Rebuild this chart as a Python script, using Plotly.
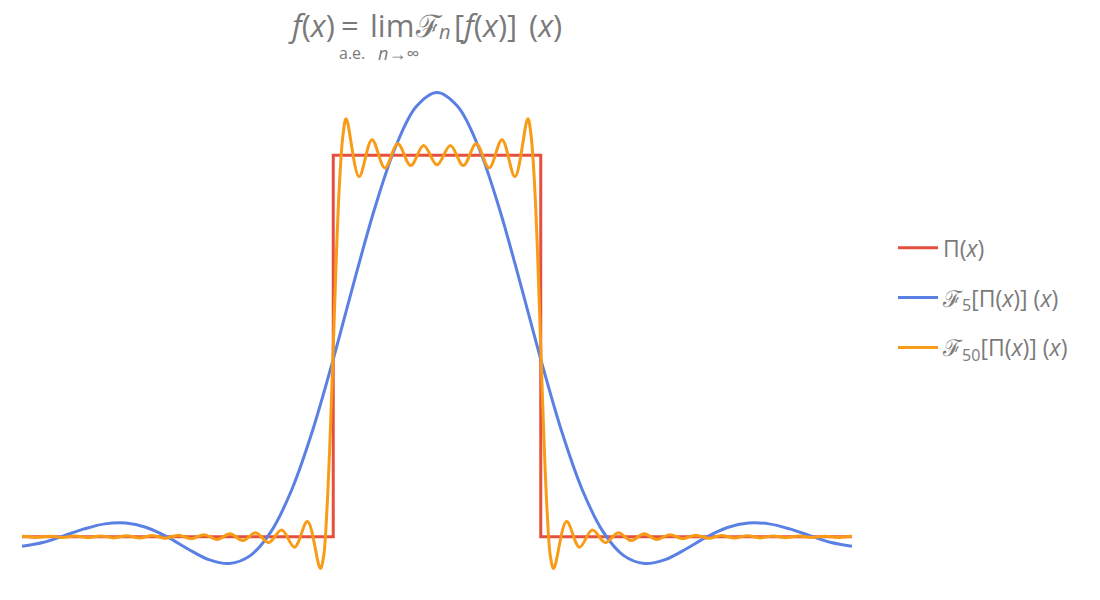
import plotly.graph_objects as go

# ---- data ----
rect_x = [-2.0, -0.5, -0.5, 0.5, 0.5, 2.0]
rect_y = [0.0, 0.0, 1.0, 1.0, 0.0, 0.0]

f5_x = [-2.0, -1.9, -1.8, -1.7, -1.6, -1.5, -1.4, -1.3, -1.2, -1.1, -1.0,
        -0.9, -0.8, -0.7, -0.6, -0.5, -0.4, -0.3, -0.2, -0.1, 0.0,
        0.1, 0.2, 0.3, 0.4, 0.5, 0.6, 0.7, 0.8, 0.9, 1.0,
        1.1, 1.2, 1.3, 1.4, 1.5, 1.6, 1.7, 1.8, 1.9, 2.0]
f5_y = [-0.0247, -0.0150, 0.0026, 0.0208, 0.0340, 0.0363, 0.0246, -0.0002, -0.0318, -0.0595, -0.0699,
        -0.0492, 0.0136, 0.1235, 0.2779, 0.4654, 0.6677, 0.8612, 1.0217, 1.1277, 1.1648,
        1.1277, 1.0217, 0.8612, 0.6677, 0.4654, 0.2779, 0.1235, 0.0136, -0.0492, -0.0699,
        -0.0595, -0.0318, -0.0002, 0.0246, 0.0363, 0.0340, 0.0208, 0.0026, -0.0150, -0.0247]

f50_x = [-2.0, -1.9930, -1.9308, -1.8686, -1.8064, -1.7442, -1.6820, -1.6198, -1.5576,
         -1.4954, -1.4332, -1.3709, -1.3087, -1.2465, -1.1843, -1.1221, -1.0599,
         -0.9977, -0.9355, -0.8733, -0.8110, -0.7488, -0.6866, -0.6244, -0.5622,
         -0.5467, -0.5311, -0.5155, -0.5000, -0.4845, -0.4689, -0.4533, -0.4378,
         -0.3756, -0.3134, -0.2512, -0.1890, -0.1267, -0.0645, 0.0,
         0.0645, 0.1267, 0.1890, 0.2512, 0.3134, 0.3756,
         0.4378, 0.4533, 0.4689, 0.4845, 0.5000, 0.5155, 0.5311, 0.5467, 0.5622,
         0.6244, 0.6866, 0.7488, 0.8110, 0.8733, 0.9355, 0.9977,
         1.0599, 1.1221, 1.1843, 1.2465, 1.3087, 1.3709, 1.4332, 1.4954,
         1.5576, 1.6198, 1.6820, 1.7442, 1.8064, 1.8686, 1.9308, 1.9930, 2.0]
f50_y = [0.0013, 0.0014, -0.0015, 0.0017, -0.0018, 0.0020, -0.0022, 0.0024, -0.0027,
         0.0030, -0.0033, 0.0036, -0.0040, 0.0044, -0.0051, 0.0058, -0.0068,
         0.0078, -0.0095, 0.011, -0.015, 0.018, -0.027, 0.040, -0.083,
         -0.052, 0.064, 0.255, 0.495, 0.745, 0.936, 1.052, 1.096,
         0.944, 1.041, 0.967, 1.030, 0.973, 1.026, 0.975,
         1.026, 0.973, 1.030, 0.967, 1.041, 0.944,
         1.096, 1.052, 0.936, 0.745, 0.495, 0.255, 0.064, -0.052, -0.083,
         0.040, -0.027, 0.018, -0.015, 0.011, -0.0095, 0.0078,
         -0.0068, 0.0058, -0.0051, 0.0044, -0.0040, 0.0036, -0.0033, 0.0030,
         -0.0027, 0.0024, -0.0022, 0.0020, -0.0018, 0.0017, -0.0015, 0.0014, 0.0013]

legend_labels = ["Π(<i>x</i>)",
                 "ℱ<sub>5</sub>[Π(<i>x</i>)] (<i>x</i>)",
                 "ℱ<sub>50</sub>[Π(<i>x</i>)] (<i>x</i>)"]
colors = ["#E5503E", "#5B80E4", "#F89C17"]

FONT = "Open Sans"
TXT = "#7a7a7a"

# ---- geometry (page body has an 8px margin, so the figure is 1084x584) ----
OFF = 8
W, H = 1084, 584
L, R, T, B = 14, 240, 70.6, 16.8
pw, ph = W - L - R, H - T - B


def sx(xs):
    """screen x pixel -> paper x"""
    return (xs - OFF - L) / pw


def sy(ys):
    """screen y pixel -> paper y"""
    return (H - B - (ys - OFF)) / ph


fig = go.Figure()
fig.add_trace(go.Scatter(x=rect_x, y=rect_y, mode="lines", name=legend_labels[0],
                         legendgroup="a", line=dict(color=colors[0], width=3)))
fig.add_trace(go.Scatter(x=f5_x, y=f5_y, mode="lines", name=legend_labels[1],
                         legendgroup="b", line=dict(color=colors[1], width=3, shape="spline", smoothing=1)))
fig.add_trace(go.Scatter(x=f50_x, y=f50_y, mode="lines", name=legend_labels[2],
                         legendgroup="c", line=dict(color=colors[2], width=3, shape="spline", smoothing=1)))

ann = []
tf = dict(family=FONT, size=31, color=TXT)
nf = dict(family=FONT, size=20, color=TXT)
af = dict(family=FONT, size=16, color=TXT)
lf = dict(family=FONT, size=18, color=TXT)
ym = 25
ann.append(dict(text="<i>f</i>(<i>x</i>)", x=sx(311.5), y=sy(ym), font=tf))
ann.append(dict(text="=", x=sx(350), y=sy(ym), font=tf))
ann.append(dict(text="lim", x=sx(391.5), y=sy(ym), font=tf))
ann.append(dict(text="ℱ", x=sx(429), y=sy(ym), font=tf))
ann.append(dict(text="<i>n</i>", x=sx(445), y=sy(31), font=nf))
ann.append(dict(text="[<i>f</i>(<i>x</i>)]", x=sx(485), y=sy(ym), font=tf))
ann.append(dict(text="(<i>x</i>)", x=sx(545), y=sy(ym), font=tf))
ann.append(dict(text="a.e.", x=sx(351.5), y=sy(53), font=af))
ann.append(dict(text="<i>n</i>→∞", x=sx(398), y=sy(53), font=lf))
for a in ann:
    a.update(xref="paper", yref="paper", showarrow=False, xanchor="center", yanchor="middle",
             borderpad=2)

fig.update_layout(
    width=W, height=H,
    margin=dict(l=L, r=R, t=T, b=B),
    paper_bgcolor="white", plot_bgcolor="white",
    xaxis=dict(range=[-2, 2], visible=False),
    yaxis=dict(range=[-0.1, 1.2], visible=False),
    showlegend=True,
    legend=dict(x=sx(893), y=sy(226), xanchor="left", yanchor="top",
                font=dict(family=FONT, size=23, color=TXT),
                traceorder="grouped", tracegroupgap=17, itemwidth=40,
                bgcolor="rgba(0,0,0,0)"),
    annotations=ann,
)

fig.write_html("out.html")
